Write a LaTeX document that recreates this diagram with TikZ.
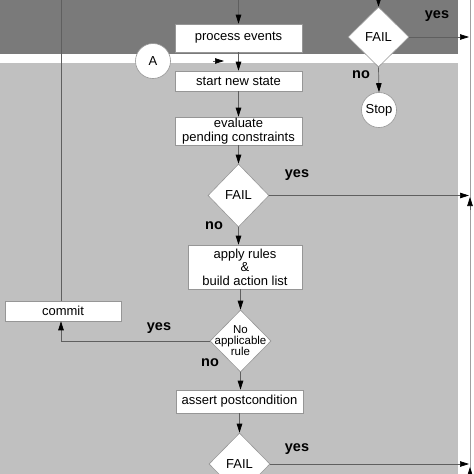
\documentclass[tikz,border=0pt]{standalone}
\usepackage{fontspec}
\setmainfont{Liberation Sans}
\usetikzlibrary{shapes.geometric,arrows.meta}
\definecolor{darkband}{RGB}{122,122,122}
\definecolor{lightband}{RGB}{192,192,192}
\definecolor{linegray}{RGB}{95,95,95}
\definecolor{boxgray}{RGB}{150,150,150}
\definecolor{railgray}{RGB}{160,160,160}
\begin{document}
\begin{tikzpicture}[x=1pt,y=-1pt,
  every node/.style={font=\fontsize{13}{13.5}\selectfont},
  stepbox/.style={draw=boxgray,line width=0.6pt,fill=white,inner sep=0pt,align=center},
  decision/.style={diamond,draw=boxgray,line width=0.6pt,fill=white,inner sep=0pt},
  term/.style={circle,draw=boxgray,line width=0.6pt,fill=white,inner sep=0pt,minimum size=35pt},
  conn/.style={draw=linegray,line width=0.7pt,-{Triangle[length=9pt,width=5.5pt,color=black]}},
  plain/.style={draw=linegray,line width=0.7pt},
  rail/.style={draw=railgray,line width=0.8pt},
  lab/.style={font=\bfseries\fontsize{14.5}{15}\selectfont}
]
% background
\fill[white] (0,0) rectangle (474,474);
\fill[darkband] (0,0) rectangle (458,54);
\fill[lightband] (0,63) rectangle (458,474);
\useasboundingbox (0,0) rectangle (474,474);

% coordinates
\coordinate (topin) at (238.5,0);
\coordinate (toptop) at (378.5,0);
\coordinate (ltop) at (61,0);
\coordinate (rtop) at (470,0);
\coordinate (rbot) at (470,474);
\coordinate (rline) at (469,0);
\coordinate (up1s) at (470,210);
\coordinate (up1e) at (470,197);
\coordinate (up2s) at (470,480);
\coordinate (up2e) at (470,467);
\coordinate (Amid) at (213,61);
\coordinate (Aend) at (224,61);

% nodes
\node[stepbox,minimum width=127pt,minimum height=28pt] (process) at (238.5,38) {process events};
\node[stepbox,minimum width=127pt,minimum height=20pt] (start) at (238.5,81) {start new state};
\node[stepbox,minimum width=127pt,minimum height=28pt] (eval) at (238.5,131) {evaluate\\pending constraints};
\node[decision,minimum width=61pt,minimum height=63pt,label=center:FAIL] (fail1) at (238.5,195.5) {};
\node[stepbox,minimum width=114pt,minimum height=44pt] (apply) at (245,267) {apply rules\\\&\\build action list};
\node[decision,minimum width=61pt,minimum height=62pt,
  label={[align=center,font=\fontsize{11.5}{11}\selectfont]center:No\\applicable\\rule}] (norule) at (240.5,341) {};
\node[stepbox,minimum width=127pt,minimum height=23pt] (assert) at (239.5,401.5) {assert postcondition};
\node[decision,minimum width=61pt,minimum height=62pt,label=center:FAIL] (fail2) at (239.5,464) {};
\node[decision,minimum width=61pt,minimum height=60pt,label=center:FAIL] (failtop) at (378.5,37) {};
\node[term] (stop) at (379,110) {Stop};
\node[term] (A) at (153,61) {A};
\node[stepbox,minimum width=116pt,minimum height=20pt] (commit) at (63,311) {commit};

% labels
\node[lab] (yes0) at (437,16) {yes};
\node[lab] (no0) at (361,75) {no};
\node[lab] (yes1) at (297,175) {yes};
\node[lab] (no1) at (214,226) {no};
\node[lab] (yes2) at (159,328) {yes};
\node[lab] (no2) at (210,363) {no};
\node[lab] (yes3) at (297,449) {yes};

% rails
\draw[rail] (rtop) -- (rbot);
\draw[plain] (ltop) -- (ltop |- commit.north);

% connectors
\draw[conn] (topin) -- (process.north);
\draw[conn] (process.south) -- (start.north);
\draw[conn] (start.south) -- (eval.north);
\draw[conn] (eval.south) -- (fail1.north);
\draw[conn] (fail1.south) -- (fail1.south |- apply.north);
\draw[conn] (norule.north |- apply.south) -- (norule.north);
\draw[conn] (norule.south) -- (norule.south |- assert.north);
\draw[conn] (assert.south) -- (fail2.north);
\draw[conn] (toptop) -- (failtop.north);
\draw[conn] (failtop.south) -- (stop.north);
\draw[conn] (failtop.east) -- (failtop.east -| rline);
\draw[conn] (fail1.east) -- (fail1.east -| rline);
\draw[conn] (fail2.east) -- (fail2.east -| rline);
\draw[conn] (up1s) -- (up1e);
\draw[conn] (up2s) -- (up2e);
\draw[conn] (norule.west) -| (ltop |- commit.south);
\draw[draw=gray!75,line width=0.5pt,double=white,double distance=1.6pt] (A.east) -- (Amid);
\draw[conn] (Amid) -- (Aend);
\end{tikzpicture}
\end{document}
